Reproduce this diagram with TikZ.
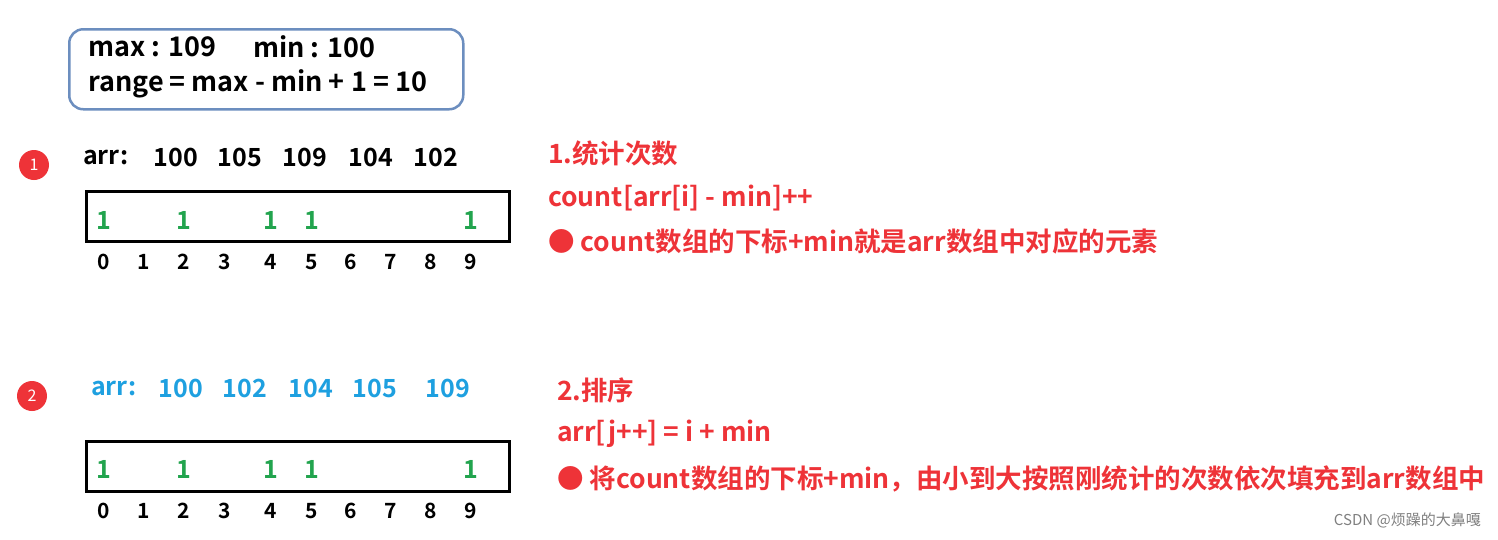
\documentclass[tikz,border=0pt]{standalone}
\usepackage{fontspec}
\setmainfont{Noto Sans CJK SC}[BoldFont={Noto Sans CJK SC Bold}]
\definecolor{rd}{HTML}{EE3338}
\definecolor{gn}{HTML}{22A44E}
\definecolor{bl}{HTML}{1EA0E0}
\definecolor{fr}{HTML}{6C8EBF}
\begin{document}
\begin{tikzpicture}[x=1pt,y=-1pt,
  t/.style={inner sep=0,font=\bfseries\fontsize{25}{25}\selectfont},
  tl/.style={t,anchor=west},
  hd/.style={tl,font=\bfseries\fontsize{27}{27}\selectfont},
  rt/.style={tl,text=rd,font=\bfseries\fontsize{26.5}{26.5}\selectfont},
  g/.style={t,text=gn},
  ix/.style={t,font=\bfseries\fontsize{21}{21}\selectfont},
  badge/.style={circle,fill=rd,minimum size=30pt,inner sep=0,text=white,font=\fontsize{16}{16}\selectfont}]
\useasboundingbox[fill=white] (0,0) rectangle (1498,539);
\node[draw=fr,line width=2.5pt,rounded corners=14pt,minimum width=394pt,minimum height=80pt,anchor=north west] (hdr) at (68,28) {};
\node[hd] (mx) at (88,47) {max : 109};
\node[hd] (mn) at (253,47) {min : 100};
\node[hd] (rg) at (88,84) {range = max - min + 1 = 10};
\node[badge] (b1) at (34,165) {1};
\node[badge] (b2) at (32,396) {2};
% first
\node[tl] (a1) at (83,157) {arr:};
\foreach \v/\x in {100/176,105/240,109/305,104/371,102/436}{\node[t] (n1\v) at (\x,157) {\v};}
\node[draw,line width=2.5pt,minimum width=423pt,minimum height=50pt,anchor=north west] (box1) at (85,190) {};
\foreach \x [count=\i] in {104,184,271,312,471}{\node[g] (c1\i) at (\x,220) {1};}
\foreach \x [count=\i from 0] in {104,144,184,225,271,312,351,391,431,471}{\node[ix] (i1\i) at (\x,262) {\i};}
\node[rt] (r11) at (548,153) {1.统计次数};
\node[rt] (r12) at (548,198) {count[arr[i] - min]++};
\node[rt] (r13) at (548,241) {● count数组的下标+min就是arr数组中对应的元素};
% second
\node[tl,text=bl] (a2) at (91,388) {arr:};
\foreach \v/\x in {100/181,102/245,104/311,105/375,109/448}{\node[t,text=bl] (n2\v) at (\x,388) {\v};}
\node[draw,line width=2.5pt,minimum width=423pt,minimum height=50pt,anchor=north west] (box2) at (85,440) {};
\foreach \x [count=\i] in {104,184,271,312,471}{\node[g] (c2\i) at (\x,469) {1};}
\foreach \x [count=\i from 0] in {104,144,184,225,271,312,351,391,431,471}{\node[ix] (i2\i) at (\x,511) {\i};}
\node[rt] (r21) at (557,390) {2.排序};
\node[rt] (r22) at (557,434) {arr[j++] = i + min};
\node[rt] (r23) at (557,479) {● 将count数组的下标+min，由小到大按照刚统计的次数依次填充到arr数组中};
\node[inner sep=0,anchor=east,text=gray,font=\fontsize{15}{15}\selectfont] (wm) at (1481,520) {CSDN @烦躁的大鼻嘎};
\end{tikzpicture}
\end{document}
